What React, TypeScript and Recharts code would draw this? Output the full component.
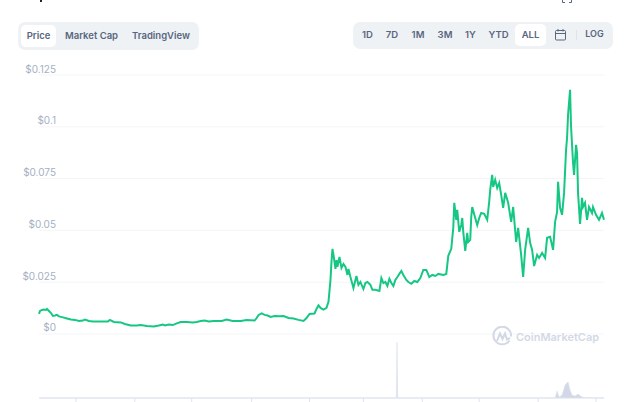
import { Area, CartesianGrid, ComposedChart, Line, XAxis, YAxis } from "recharts";

const priceDays = [
  0, 3, 9, 15, 21, 24, 30, 36, 42, 48, 54, 60, 72, 84, 96, 108, 120, 132, 138, 150, 162, 186, 207, 213, 225, 246, 258,
  276, 294, 306, 324, 345, 360, 372, 378, 390, 402, 414, 426, 444, 462, 474, 486, 498, 510, 525, 549, 564, 582, 606,
  624, 648, 654, 660, 669, 678, 687, 696, 708, 723, 735, 750, 765, 780, 795, 804, 813, 828, 834, 840, 846, 855, 864,
  870, 876, 879, 882, 885, 891, 894, 897, 903, 909, 915, 921, 927, 930, 936, 945, 951, 954, 960, 966, 975, 981, 987,
  996, 1002, 1011, 1023, 1029, 1035, 1041, 1047, 1053, 1059, 1065, 1071, 1077, 1083, 1089, 1095, 1104, 1110, 1119,
  1128, 1137, 1146, 1155, 1164, 1173, 1182, 1191, 1200, 1215, 1224, 1230, 1239, 1245, 1248, 1254, 1257, 1263, 1269,
  1272, 1275, 1281, 1287, 1290, 1296, 1299, 1302, 1311, 1317, 1323, 1329, 1338, 1347, 1353, 1356, 1362, 1365, 1371,
  1377, 1383, 1389, 1395, 1401, 1410, 1419, 1425, 1434, 1440, 1449, 1455, 1461, 1470, 1476, 1482, 1488, 1497, 1503,
  1512, 1521, 1527, 1536, 1545, 1551, 1557, 1560, 1566, 1572, 1578, 1584, 1587, 1590, 1596, 1599, 1605, 1608, 1614,
  1617, 1620, 1626, 1632, 1635, 1641, 1647, 1653, 1662, 1665, 1674, 1683, 1692, 1698,
];

const prices = [
  0.0097, 0.0111, 0.0116, 0.0118, 0.0116, 0.0121, 0.0111, 0.0101, 0.0087, 0.0089, 0.0092, 0.0085, 0.008, 0.0075, 0.007,
  0.0068, 0.0063, 0.0065, 0.007, 0.0063, 0.006, 0.006, 0.006, 0.0068, 0.0058, 0.0056, 0.0048, 0.0041, 0.0041, 0.0043,
  0.0039, 0.0036, 0.0041, 0.0046, 0.0041, 0.0046, 0.0043, 0.0051, 0.0058, 0.0058, 0.0056, 0.0058, 0.0063, 0.0065, 0.006,
  0.0063, 0.0063, 0.007, 0.0063, 0.0063, 0.0068, 0.0065, 0.0077, 0.0092, 0.0099, 0.0092, 0.0089, 0.0082, 0.0087, 0.0085,
  0.0087, 0.0077, 0.0075, 0.0068, 0.0063, 0.0077, 0.0097, 0.0099, 0.0121, 0.0138, 0.0126, 0.0118, 0.0126, 0.0155, 0.0261,
  0.0348, 0.0411, 0.0382, 0.0314, 0.0357, 0.0324, 0.0372, 0.0319, 0.0338, 0.0324, 0.0285, 0.0314, 0.0275, 0.0222, 0.0261,
  0.028, 0.0237, 0.0251, 0.0217, 0.0246, 0.0251, 0.0237, 0.0213, 0.0213, 0.0208, 0.027, 0.0246, 0.0251, 0.0232, 0.0266,
  0.0246, 0.0232, 0.0261, 0.0275, 0.029, 0.0304, 0.0285, 0.0261, 0.0251, 0.0242, 0.0256, 0.0251, 0.027, 0.0309, 0.0309,
  0.0275, 0.0285, 0.028, 0.029, 0.0285, 0.029, 0.0377, 0.0411, 0.0512, 0.0633, 0.0551, 0.0599, 0.0493, 0.0526, 0.056,
  0.0493, 0.0401, 0.0488, 0.0444, 0.0454, 0.0565, 0.0613, 0.056, 0.0526, 0.056, 0.0584, 0.058, 0.0551, 0.0638, 0.0696,
  0.0768, 0.071, 0.0744, 0.0705, 0.0729, 0.0671, 0.0609, 0.0681, 0.0633, 0.0541, 0.0613, 0.0444, 0.0512, 0.0382, 0.0275,
  0.0406, 0.0512, 0.044, 0.0406, 0.0328, 0.0382, 0.0367, 0.0391, 0.0367, 0.0464, 0.0469, 0.0406, 0.0541, 0.0589, 0.0734,
  0.0609, 0.0575, 0.0681, 0.0889, 0.0947, 0.1058, 0.1179, 0.1, 0.0826, 0.0768, 0.0913, 0.0874, 0.0681, 0.0531, 0.0657,
  0.0613, 0.0633, 0.0551, 0.0613, 0.0584, 0.0613, 0.0575, 0.0551, 0.0584, 0.0551,
];

const volumeDays = [0, 1074, 1076, 1078, 1551, 1557, 1563, 1572, 1581, 1590, 1596, 1602, 1611, 1620, 1632, 1641, 1671, 1698];
const volumes = [0, 0, 1.73, 0, 0, 0.22, 0.03, 0.09, 0.4, 0.5, 0.25, 0.09, 0.06, 0.12, 0.03, 0.01, 0, 0];

const priceTicks = [0, 0.025, 0.05, 0.075, 0.1, 0.125];
const dayTicks = [111, 288, 459, 639, 813, 975, 1152, 1323, 1500, 1674];

const viewTabs = ["Price", "Market Cap", "TradingView"];
const rangeTabs = ["1D", "7D", "1M", "3M", "1Y", "YTD", "ALL"];

const priceData = priceDays.map((day, i) => ({ day, price: prices[i] }));
const volumeData = volumeDays.map((day, i) => ({ day, volume: volumes[i] }));

const tabText = {
  position: "absolute",
  fontFamily: "Inter",
  fontSize: 9.5,
  fontWeight: 600,
  color: "#58667e",
  lineHeight: "14px",
  transform: "translateX(-50%)",
  whiteSpace: "nowrap",
} as const;

const viewCenters = [38.5, 91.5, 161];
const rangeCenters = [367.5, 392, 418, 445, 470.5, 498.5, 530.5];

function Toolbar() {
  return (
    <>
      <div style={{ position: "absolute", left: 18, top: 22, width: 181, height: 28, background: "#eff2f5", borderRadius: 7 }} />
      <div style={{ position: "absolute", left: 21, top: 25, width: 35, height: 22, background: "#fff", borderRadius: 5 }} />
      {viewTabs.map((t, i) => (
        <span key={t} style={{ ...tabText, left: viewCenters[i], top: 29 }}>
          {t}
        </span>
      ))}
      <div style={{ position: "absolute", left: 353, top: 22, width: 260, height: 27, background: "#eff2f5", borderRadius: 7 }} />
      <div style={{ position: "absolute", left: 515, top: 24, width: 31, height: 22, background: "#fff", borderRadius: 5 }} />
      {rangeTabs.map((t, i) => (
        <span key={t} style={{ ...tabText, left: rangeCenters[i], top: 28 }}>
          {t}
        </span>
      ))}
      <svg style={{ position: "absolute", left: 554, top: 28 }} width={14} height={14} fill="none" stroke="#58667e" strokeWidth={1}>
        <rect x={1.5} y={2.5} width={10} height={9.5} rx={1} />
        <path d="M1.5 5.5H11.5M4 1V3.5M9 1V3.5" />
      </svg>
      <div style={{ position: "absolute", left: 576, top: 30, width: 1, height: 10, background: "#dfe3ea" }} />
      <span style={{ ...tabText, left: 594.5, top: 27, fontSize: 9 }}>LOG</span>
    </>
  );
}

// bits of the page header that the screenshot cuts off at the top
function HeaderScraps() {
  return (
    <>
      <div style={{ position: "absolute", left: 40, top: 0, width: 2, height: 2, background: "#222531" }} />
      <svg style={{ position: "absolute", left: 560, top: 0 }} width={14} height={4} fill="none" stroke="#58667e" strokeWidth={1}>
        <path d="M2.5 0V2.5H5M11.5 0V2.5H9" />
      </svg>
    </>
  );
}

function Watermark() {
  return (
    <>
      <svg style={{ position: "absolute", left: 491, top: 326 }} width={22} height={22} fill="none" stroke="#d3d8e6" strokeWidth={2}>
        <path d="M18.5 14.5A8.8 8.8 0 1 1 20 10.5" />
        <path d="M6 15L9 7.5L11.5 13L14 7.5L16 13.5L19 12" />
      </svg>
      <span
        style={{
          position: "absolute",
          left: 516,
          top: 329,
          fontFamily: "Inter",
          fontSize: 11,
          fontWeight: 600,
          lineHeight: "16px",
          color: "#d3d8e6",
          whiteSpace: "nowrap",
        }}
      >
        CoinMarketCap
      </span>
    </>
  );
}

// labels sit inside the plot, just above their gridline
function PriceTick({ y, payload }: { y: number; payload: { value: number } }) {
  return (
    <text x={56} y={y - 2.5} textAnchor="end" fontSize={10} fontFamily="Inter" fill="#a6b0c3">
      {`$${payload.value}`}
    </text>
  );
}

export default function App() {
  return (
    <div style={{ position: "absolute", left: 0, top: 0, width: 627, height: 402, overflow: "hidden", background: "#fff" }}>
      <ComposedChart width={627} height={402} margin={{ top: 75, right: 23, bottom: 0, left: 38 }}>
        <CartesianGrid yAxisId="price" xAxisId="days" vertical={false} stroke="#f4f5f8" strokeWidth={1} />
        <XAxis
          xAxisId="days"
          dataKey="day"
          type="number"
          domain={[0, 1698]}
          ticks={dayTicks}
          height={4}
          tickSize={4}
          tickLine={{ stroke: "#dfe3f0" }}
          axisLine={{ stroke: "#dfe3f0" }}
          tickFormatter={() => ""}
        />
        <YAxis
          yAxisId="price"
          width={1}
          type="number"
          domain={[-0.0309, 0.125]}
          ticks={priceTicks}
          interval={0}
          axisLine={false}
          tickLine={false}
          tick={PriceTick}
        />
        <YAxis yAxisId="volume" hide domain={[0, 10]} />
        <Area
          xAxisId="days"
          yAxisId="volume"
          data={volumeData}
          dataKey="volume"
          type="linear"
          stroke="#dfe3f0"
          strokeWidth={0.6}
          fill="#d3d8e6"
          fillOpacity={1}
          dot={false}
          isAnimationActive={false}
        />
        <Line
          xAxisId="days"
          yAxisId="price"
          data={priceData}
          dataKey="price"
          type="linear"
          stroke="#16c784"
          strokeWidth={2}
          dot={false}
          isAnimationActive={false}
        />
      </ComposedChart>
      <Toolbar />
      <HeaderScraps />
      <Watermark />
    </div>
  );
}
